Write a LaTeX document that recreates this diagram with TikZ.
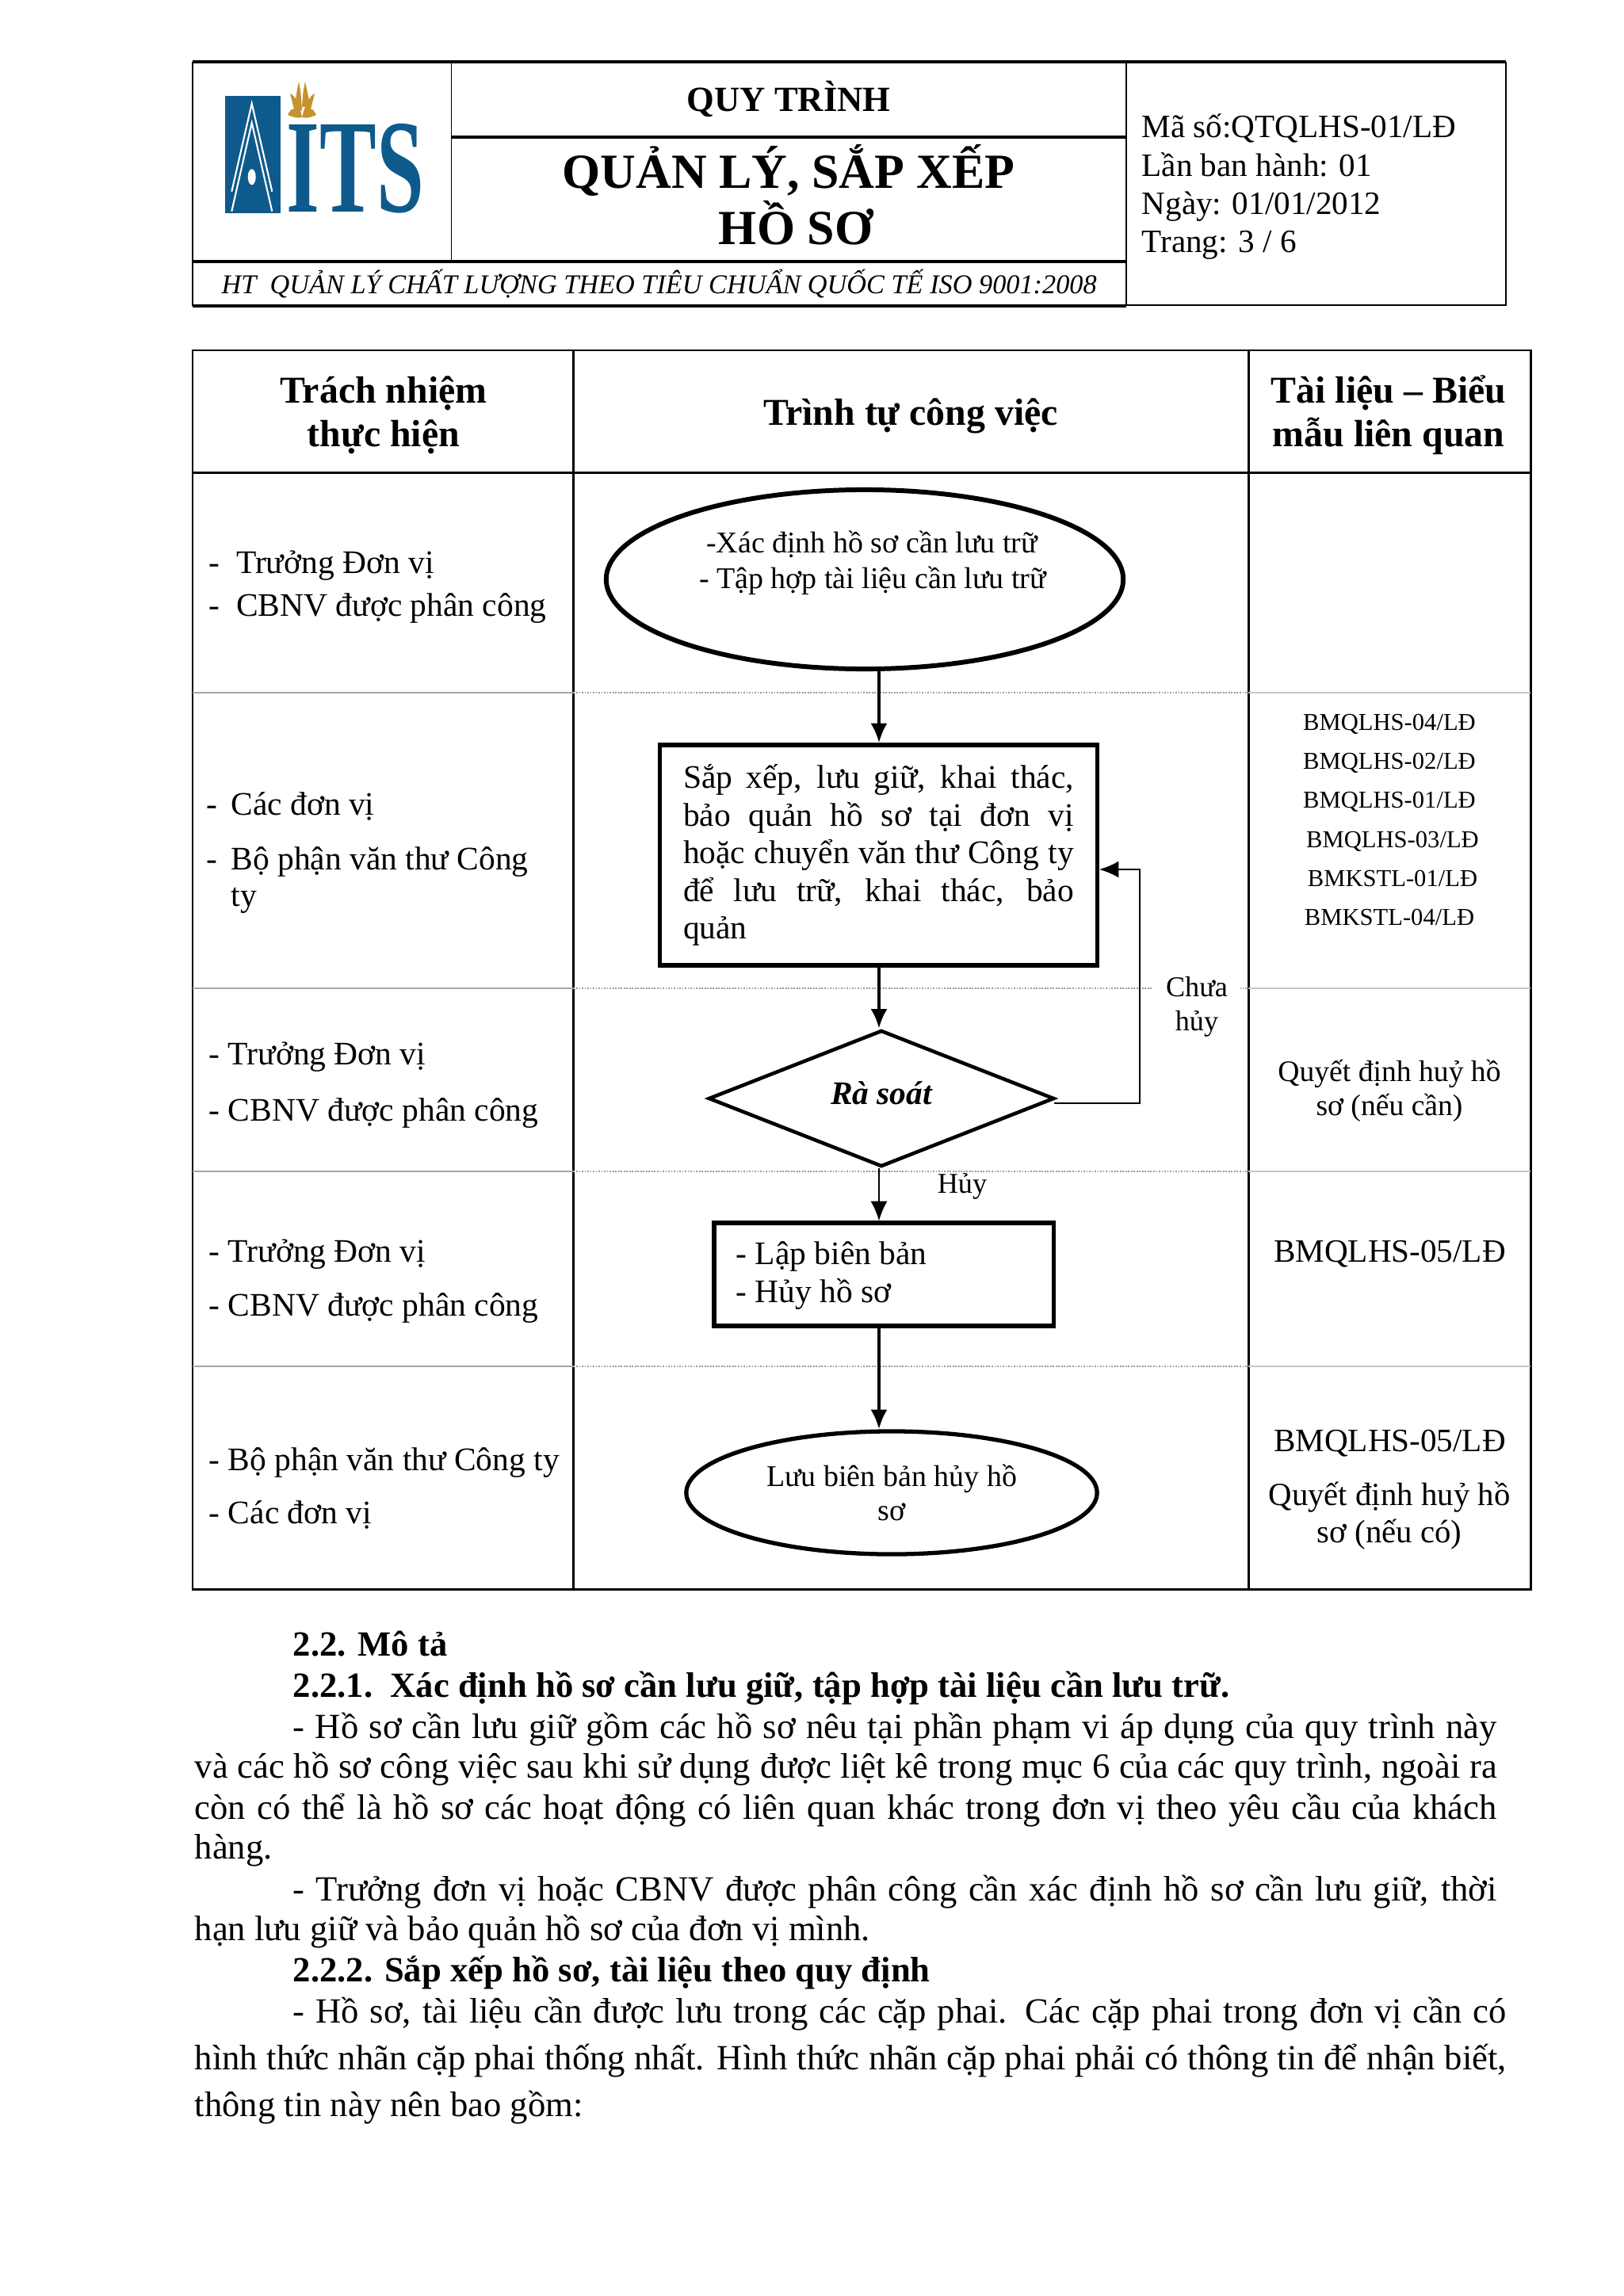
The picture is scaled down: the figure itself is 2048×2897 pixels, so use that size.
\documentclass[tikz,border=0pt]{standalone}
\usepackage{fontspec}
\setmainfont{Liberation Serif}
\usetikzlibrary{shapes.geometric,arrows.meta}
\newcommand{\cosize}[1]{\fontsize{#1}{#1}\selectfont}
\newcommand{\hang}[2]{\makebox[#1\dimexpr 0.01cm\relax][s]{#2}}
\definecolor{itsblue}{HTML}{0F5A8C}
\definecolor{itsgold}{HTML}{C4922E}
\tikzset{
    khung/.style={line width=0.85pt},
    mong/.style={line width=0.55pt},
    thead/.style={font=\cosize{13.6}\bfseries, anchor=base},
    traiTxt/.style={font=\cosize{11.8}, anchor=base west, inner sep=0pt},
    bmTxt/.style={font=\cosize{8.7}, anchor=base},
    than/.style={font=\cosize{12.7}, anchor=base west, inner sep=0pt},
    thanB/.style={font=\cosize{12.7}\bfseries, anchor=base west, inner sep=0pt},
    oval/.style={draw, ellipse, line width=1.7pt, inner sep=0pt},
    hop/.style={draw, rectangle, line width=1.5pt, inner sep=0pt},
    thoi/.style={draw, diamond, line width=1.3pt, inner sep=0pt},
    muiten/.style={-{Latex[length=7pt,width=6pt]}, line width=1.2pt}
}
\begin{document}
\begin{tikzpicture}[x=0.01cm,y=-0.01cm]
    \useasboundingbox (0,0) rectangle (2048,2897);

    % khung tieu de
    \draw[line width=1pt] (243,78) -- (1900,78);
    \draw[mong] (243,78) -- (243,386);
    \draw[mong] (569.5,78) -- (569.5,330);
    \draw[mong] (1421,78) -- (1421,386);
    \draw[mong] (1900,78) -- (1900,385) -- (1421,385);
    \draw[line width=1pt] (569.5,173) -- (1421,173);
    \draw[line width=1pt] (243,330) -- (1421,330);
    \draw[line width=1pt] (243,386) -- (1421,386);

    % logo
    \fill[itsblue] (284,121) rectangle (354,269);
    \draw[white, line width=0.6pt] (292.3,241.7) -- (317.7,130.7) -- (343.3,241.7);
    \draw[white, line width=0.6pt] (292.3,266.7) -- (317.7,155) -- (343.3,266.7);
    \fill[white] (317.7,223.3) ellipse (5 and 10);
    \node[font=\cosize{47.8}\bfseries, text=itsblue, anchor=base west, inner sep=0pt, xscale=0.64] (its) at (361,268) {ITS};
    \fill[itsgold] (372,135) .. controls (374,118) and (375,112) .. (377,103) .. controls (379,112) and (380,120) .. (381,140) -- cycle;
    \fill[itsgold] (381,135) .. controls (382,118) and (383,112) .. (385,103) .. controls (387,112) and (389,120) .. (391,135) -- cycle;
    \fill[itsgold] (366,118) .. controls (374,122) and (378,132) .. (381,148) -- (372,142) .. controls (370,134) and (368,126) .. (366,118) -- cycle;
    \fill[itsgold] (397,118) .. controls (390,122) and (385,132) .. (381,148) -- (391,142) .. controls (393,134) and (395,126) .. (397,118) -- cycle;
    \fill[itsgold] (363,145) .. controls (368,133) and (376,136) .. (381,148) .. controls (375,150) and (368,147) .. (363,145) -- cycle;
    \fill[itsgold] (399,145) .. controls (394,133) and (387,136) .. (381,148) .. controls (388,150) and (394,147) .. (399,145) -- cycle;

    \node[font=\cosize{12.7}\bfseries, anchor=base] (quytrinh) at (995,140) {QUY TRÌNH};
    \node[font=\cosize{17.6}\bfseries, anchor=base] (quanly) at (995,238) {QUẢN LÝ, SẮP XẾP};
    \node[font=\cosize{17.6}\bfseries, anchor=base] (hoso) at (1004,308) {HỒ SƠ};
    \node[font=\cosize{9.75}\itshape, anchor=base west, inner sep=0pt] (htql) at (279,370) {HT~~QUẢN LÝ CHẤT LƯỢNG THEO TIÊU CHUẨN QUỐC TẾ ISO 9001:2008};
    \foreach \i/\y/\t in {1/174/{Mã số:QTQLHS-01/LĐ}, 2/222/{Lần ban hành: 01}, 3/270/{Ngày: 01/01/2012}, 4/318/{Trang: 3 / 6}}
        \node[font=\cosize{11.7}, anchor=base west, inner sep=0pt] (ma\i) at (1440,\y) {\t};

    % bang chinh
    \draw[khung] (243,442) rectangle (1931,2005);
    \draw[khung] (723.5,442) -- (723.5,2005);
    \draw[khung] (1575,442) -- (1575,2005);
    \draw[khung] (243,596.5) -- (1931,596.5);
    \foreach \y in {874,1247,1478,1724} {
        \draw[gray!70, line width=0.6pt] (243,\y) -- (723.5,\y);
        \draw[gray!80, line width=0.5pt, dash pattern=on 0.5pt off 0.5pt] (723.5,\y) -- (1575,\y);
        \draw[gray!45, line width=0.6pt] (1575,\y) -- (1931,\y);
    }

    \node[thead] (tn1) at (484,508) {Trách nhiệm};
    \node[thead] (tn2) at (484,563) {thực hiện};
    \node[thead] (tt) at (1149,536) {Trình tự công việc};
    \node[thead] (tl1) at (1752,508) {Tài liệu – Biểu};
    \node[thead] (tl2) at (1752,563) {mẫu liên quan};

    % cot trach nhiem
    \foreach \i/\x/\y/\t in {
        a/263/723/{-~~Trưởng Đơn vị}, b/263/777/{-~~CBNV được phân công},
        c/260/1028/{-\kern0.17cm Các đơn vị}, d/260/1097/{-\kern0.17cm Bộ phận văn thư Công}, e/291/1143/ty,
        f/263/1343/{- Trưởng Đơn vị}, g/263/1414/{- CBNV được phân công},
        h/263/1592/{- Trưởng Đơn vị}, k/263/1660/{- CBNV được phân công},
        m/263/1855/{- Bộ phận văn thư Công ty}, n/263/1922/{- Các đơn vị}}
        \node[traiTxt] (tr\i) at (\x,\y) {\t};

    % luu do
    \coordinate (truc) at (1109,0);
    \node[oval, minimum width=6.52cm, minimum height=2.26cm] (xacdinh) at (1091,731) {};
    \node[font=\cosize{10.8}, anchor=base] (xd1) at (1100,697) {-Xác định hồ sơ cần lưu trữ};
    \node[font=\cosize{10.8}, anchor=base] (xd2) at (1101,742) {- Tập hợp tài liệu cần lưu trữ};
    \node[hop, minimum width=5.51cm, minimum height=2.78cm, font=\cosize{11.8}] (sapxep) at (1108.5,1079) {%
        \parbox{493\dimexpr 0.01cm\relax}{\baselineskip=47.5\dimexpr 0.01cm\relax
        \hang{493}{Sắp xếp, lưu giữ, khai thác,}\\
        \hang{493}{bảo quản hồ sơ tại đơn vị}\\
        \hang{493}{hoặc chuyển văn thư Công ty}\\
        \hang{493}{để lưu trữ, khai thác, bảo}\\
        quản}};
    \node[thoi, minimum width=4.36cm, minimum height=1.72cm] (rasoat) at (1112,1386) {};
    \node[font=\cosize{11.8}\bfseries\itshape, anchor=base] (rasoattxt) at (1112,1393) {Rà soát};
    \node[hop, minimum width=4.28cm, minimum height=1.30cm] (lapbb) at (1115,1608) {};
    \node[font=\cosize{11.8}, anchor=base west, inner sep=0pt] (lap1) at (928,1595) {- Lập biên bản};
    \node[font=\cosize{11.8}, anchor=base west, inner sep=0pt] (lap2) at (928,1643) {- Hủy hồ sơ};
    \node[oval, line width=1.5pt, minimum width=5.18cm, minimum height=1.55cm] (luubb) at (1125,1883.5) {};
    \node[font=\cosize{10.8}, anchor=base] (luu1) at (1125,1875) {Lưu biên bản hủy hồ};
    \node[font=\cosize{10.8}, anchor=base] (luu2) at (1125,1918) {sơ};

    \node[fill=white, font=\cosize{10.3}, inner sep=0pt, minimum width=1.09cm, minimum height=0.38cm] (chua) at (1510,1245) {Chưa};
    \node[font=\cosize{10.3}, anchor=base] (huy1) at (1510,1300) {hủy};
    \node[font=\cosize{10.3}, anchor=base] (huy2) at (1214,1505) {Hủy};

    \draw[muiten] (truc |- xacdinh.south) -- (truc |- sapxep.north);
    \draw[muiten] (truc |- sapxep.south) -- (truc |- rasoat.north);
    \draw[muiten, line width=0.6pt] (truc |- rasoat.south) -- (truc |- lapbb.north);
    \draw[muiten] (truc |- lapbb.south) -- (truc |- luubb.north);
    \coordinate (rara) at (1330,1392);
    \coordinate (goc) at (1438,1097);
    \draw[muiten, line width=0.7pt] (rara) -| (goc) -- (sapxep.east |- goc);

    % cot tai lieu
    \foreach \i/\x/\y/\t in {1/1753/921/{BMQLHS-04/LĐ}, 2/1753/970/{BMQLHS-02/LĐ}, 3/1753/1019/{BMQLHS-01/LĐ},
        4/1757/1069/{BMQLHS-03/LĐ}, 5/1757/1118/{BMKSTL-01/LĐ}, 6/1753/1167/{BMKSTL-04/LĐ}}
        \node[bmTxt] (bm\i) at (\x,\y) {\t};
    \node[font=\cosize{10.7}, anchor=base] (qd1) at (1753,1364) {Quyết định huỷ hồ};
    \node[font=\cosize{10.7}, anchor=base] (qd2) at (1753,1407) {sơ (nếu cần)};
    \node[font=\cosize{11.7}, anchor=base] (bm7) at (1753.5,1592) {BMQLHS-05/LĐ};
    \node[font=\cosize{11.7}, anchor=base] (bm8) at (1753.5,1831) {BMQLHS-05/LĐ};
    \node[font=\cosize{11.6}, anchor=base] (qd3) at (1753,1899) {Quyết định huỷ hồ};
    \node[font=\cosize{11.6}, anchor=base] (qd4) at (1753,1946) {sơ (nếu có)};

    % phan mo ta
    \node[thanB] (m1) at (369,2089) {2.2. Mô tả};
    \node[thanB] (m2) at (369,2141) {2.2.1.~~Xác định hồ sơ cần lưu giữ, tập hợp tài liệu cần lưu trữ.};
    \node[than] (m3) at (369,2193) {\hang{1519}{- Hồ sơ cần lưu giữ gồm các hồ sơ nêu tại phần phạm vi áp dụng của quy trình này}};
    \node[than] (m4) at (245,2243) {\hang{1643}{và các hồ sơ công việc sau khi sử dụng được liệt kê trong mục 6 của các quy trình, ngoài ra}};
    \node[than] (m5) at (245,2295) {\hang{1643}{còn có thể là hồ sơ các hoạt động có liên quan khác trong đơn vị theo yêu cầu của khách}};
    \node[than] (m6) at (245,2345) {hàng.};
    \node[than] (m7) at (369,2398) {\hang{1519}{- Trưởng đơn vị hoặc CBNV được phân công cần xác định hồ sơ cần lưu giữ, thời}};
    \node[than] (m8) at (245,2448) {hạn lưu giữ và bảo quản hồ sơ của đơn vị mình.};
    \node[thanB] (m9) at (369,2500.5) {2.2.2. Sắp xếp hồ sơ, tài liệu theo quy định};
    \node[than] (m10) at (369,2552) {\hang{1531}{- Hồ sơ, tài liệu cần được lưu trong các cặp phai. Các cặp phai trong đơn vị cần có}};
    \node[than] (m11) at (245,2611) {\hang{1655}{hình thức nhãn cặp phai thống nhất. Hình thức nhãn cặp phai phải có thông tin để nhận biết,}};
    \node[than] (m12) at (245,2670) {thông tin này nên bao gồm:};
\end{tikzpicture}
\end{document}
